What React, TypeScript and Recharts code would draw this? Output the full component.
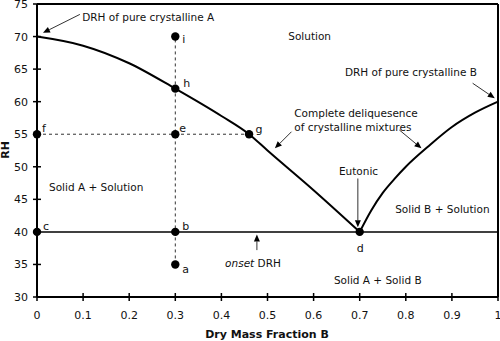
import React from "react";
import {
  ComposedChart,
  Line,
  Scatter,
  XAxis,
  YAxis,
  ReferenceLine,
} from "recharts";

/* ── data ── */
const xTicks = [0, 0.1, 0.2, 0.3, 0.4, 0.5, 0.6, 0.7, 0.8, 0.9, 1];
const yTicks = [30, 35, 40, 45, 50, 55, 60, 65, 70, 75];

// complete deliquescence curve, A side
const curveAX = [0, 0.1, 0.2, 0.3, 0.4, 0.46, 0.5, 0.6, 0.7];
const curveARH = [70, 68.6, 65.9, 62, 57.8, 55, 52.5, 46.4, 40];

// complete deliquescence curve, B side
const curveBX = [0.7, 0.725, 0.75, 0.775, 0.8, 0.85, 0.9, 0.95, 1];
const curveBRH = [40, 43.3, 46, 48.1, 50, 53.2, 56.1, 58.3, 60];

// labelled points
const pointNames = ["a", "b", "c", "d", "e", "f", "g", "h", "i"];
const pointX = [0.3, 0.3, 0, 0.7, 0.3, 0, 0.46, 0.3, 0.3];
const pointRH = [35, 40, 40, 40, 55, 55, 55, 62, 70];

const onsetRH = 40;

// dashed guides: [x1, y1, x2, y2]
const guides = [
  [0.3, 35, 0.3, 70],
  [0, 55, 0.46, 55],
];

// region / annotation text (x, y = left end of baseline)
const notes = [
  { x: 0.098, y: 72.4, text: "DRH of pure crystalline A" },
  { x: 0.545, y: 69.5, text: "Solution" },
  { x: 0.668, y: 63.95, text: "DRH of pure crystalline B" },
  { x: 0.558, y: 57.65, text: "Complete deliquesence" },
  { x: 0.558, y: 55.5, text: "of crystalline mixtures" },
  { x: 0.655, y: 48.7, text: "Eutonic" },
  { x: 0.026, y: 46.3, text: "Solid A + Solution" },
  { x: 0.777, y: 42.9, text: "Solid B + Solution" },
  { x: 0.644, y: 32.06, text: "Solid A + Solid B" },
  { x: 0.408, y: 34.57, text: "onset DRH" },
];

// arrows: from -> tip
const arrows = [
  [0.093, 73.4, 0.013, 70.57],
  [0.945, 62.83, 0.993, 60.52],
  [0.552, 55.38, 0.516, 52.83],
  [0.786, 55.65, 0.834, 52.83],
  [0.696, 48.2, 0.696, 40.7],
  [0.477, 37.2, 0.477, 39.6],
];

const curveA = curveAX.map((x, i) => ({ x, y: curveARH[i] }));
const curveB = curveBX.map((x, i) => ({ x, y: curveBRH[i] }));
const points = pointNames.map((name, i) => ({ name, x: pointX[i], y: pointRH[i] }));

/* ── label placement next to dots (px) ── */
const tagOffset: Record<string, [number, number]> = {
  a: [7, 9],
  b: [7, -2],
  c: [6, -2],
  d: [-3, 20],
  e: [4, -2.5],
  f: [5, -2.5],
  g: [6.5, -1],
  h: [8, -2],
  i: [7, 6],
};

const FS = 11;

const XTick = ({ x, y, payload }: any) => (
  <g>
    <line x1={x} x2={x} y1={y - 4} y2={y + 4} stroke="#000" strokeWidth={1.5} />
    <text x={x} y={y + 22} textAnchor="middle" fontSize={FS} fill="#111">
      {String(payload.value)}
    </text>
  </g>
);

const YTick = ({ x, y, payload }: any) => (
  <g>
    <line x1={x - 4} x2={x + 4} y1={y} y2={y} stroke="#000" strokeWidth={1.5} />
    <text x={x - 9} y={y + 4} textAnchor="end" fontSize={FS} fill="#111">
      {String(payload.value)}
    </text>
  </g>
);

const Dot = (p: any) => {
  const off = tagOffset[p.payload.name] || [6, -2];
  return (
    <g>
      <circle cx={p.cx} cy={p.cy} r={4.2} fill="#000" />
      <text x={p.cx + off[0]} y={p.cy + off[1]} fontSize={FS} fill="#111">
        {p.payload.name}
      </text>
    </g>
  );
};

const Note = (p: any) => {
  const t: string = p.payload.text;
  if (t.startsWith("onset")) {
    return (
      <text x={p.cx} y={p.cy} fontSize={10.5} fill="#111">
        <tspan fontStyle="italic">onset</tspan> DRH
      </text>
    );
  }
  return (
    <text x={p.cx} y={p.cy} fontSize={10.5} fill="#111">
      {t}
    </text>
  );
};

const Arrow = (p: any) => {
  const { x1, y1, x2, y2 } = p;
  const a = Math.atan2(y2 - y1, x2 - x1);
  const L = 7,
    W = 3;
  const bx = x2 - L * Math.cos(a),
    by = y2 - L * Math.sin(a);
  const pts = `${x2},${y2} ${bx - W * Math.sin(a)},${by + W * Math.cos(a)} ${
    bx + W * Math.sin(a)
  },${by - W * Math.cos(a)}`;
  return (
    <g>
      <line x1={x1} y1={y1} x2={bx} y2={by} stroke="#333" strokeWidth={1} />
      <polygon points={pts} fill="#000" />
    </g>
  );
};

export default function App() {
  return (
    <div
      style={{
        position: "absolute",
        left: 0,
        top: 0,
        width: 500,
        height: 341,
        background: "#fff",
        fontFamily: "DejaVu Sans",
      }}
    >
      <ComposedChart
        width={500}
        height={341}
        margin={{ top: 4, right: 2, bottom: 0, left: 0 }}
      >
        <XAxis
          dataKey="x"
          type="number"
          domain={[0, 1]}
          ticks={xTicks}
          interval={0}
          height={44}
          tickSize={0}
          tickMargin={0}
          tickLine={false}
          tick={<XTick />}
          axisLine={{ stroke: "#000", strokeWidth: 2 }}
          label={{
            content: () => (
              <text x={267} y={338} textAnchor="middle" fontSize={11} fontWeight="bold" fill="#111">
                Dry Mass Fraction B
              </text>
            ),
          }}
        />
        <YAxis
          dataKey="y"
          type="number"
          domain={[30, 75]}
          ticks={yTicks}
          interval={0}
          width={37}
          tickSize={0}
          tickMargin={0}
          tickLine={false}
          tick={<YTick />}
          axisLine={{ stroke: "#000", strokeWidth: 2 }}
          label={{
            content: () => (
              <text
                x={9}
                y={150}
                transform="rotate(-90 9 150)"
                textAnchor="middle"
                fontSize={11}
                fontWeight="bold"
                fill="#111"
              >
                RH
              </text>
            ),
          }}
        />

        <ReferenceLine y={75} stroke="#000" strokeWidth={2} />
        <ReferenceLine x={1} stroke="#000" strokeWidth={2} />
        <ReferenceLine y={onsetRH} stroke="#000" strokeWidth={1.5} />

        {guides.map((g, i) => (
          <ReferenceLine
            key={"g" + i}
            segment={[
              { x: g[0], y: g[1] },
              { x: g[2], y: g[3] },
            ]}
            stroke="#333"
            strokeWidth={1}
            strokeDasharray="3 3"
          />
        ))}

        {arrows.map((a, i) => (
          <ReferenceLine
            key={"a" + i}
            segment={[
              { x: a[0], y: a[1] },
              { x: a[2], y: a[3] },
            ]}
            shape={<Arrow />}
          />
        ))}

        <Line
          data={curveA}
          dataKey="y"
          type="monotone"
          stroke="#000"
          strokeWidth={2}
          dot={false}
          isAnimationActive={false}
        />
        <Line
          data={curveB}
          dataKey="y"
          type="monotone"
          stroke="#000"
          strokeWidth={2}
          dot={false}
          isAnimationActive={false}
        />

        <Scatter data={points} dataKey="y" shape={<Dot />} isAnimationActive={false} />
        <Scatter data={notes} dataKey="y" shape={<Note />} isAnimationActive={false} />
      </ComposedChart>
    </div>
  );
}
